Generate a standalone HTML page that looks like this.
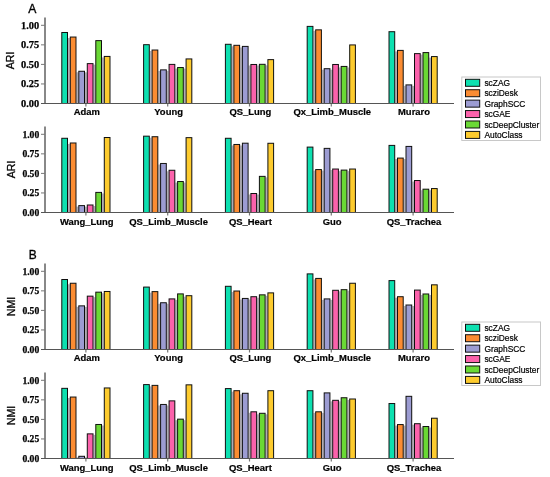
<!DOCTYPE html>
<html><head><meta charset="utf-8"><title>ARI / NMI bar charts</title>
<style>
html,body{margin:0;padding:0;background:#fff;width:550px;height:477px;overflow:hidden}
svg{display:block}
.pl{font-family:"Liberation Sans",Arial,sans-serif;font-size:12.8px;fill:#000;stroke:#000;stroke-width:0.35px}
.cat{font-family:"Liberation Sans",Arial,sans-serif;font-weight:bold;font-size:9.45px;fill:#000;stroke:#000;stroke-width:0.2px;text-anchor:middle}
.tk{font-family:"Liberation Serif","Times New Roman",serif;font-weight:bold;font-size:10px;fill:#000;stroke:#000;stroke-width:0.25px;text-anchor:end}
.at{font-family:"Liberation Sans",Arial,sans-serif;font-size:10.6px;fill:#000;stroke:#000;stroke-width:0.3px;text-anchor:middle}
.lg{font-family:"Liberation Sans",Arial,sans-serif;font-size:8.4px;fill:#000;stroke:#000;stroke-width:0.2px}
</style></head><body>
<svg width="550" height="477" viewBox="0 0 550 477">
<defs><filter id="bl" x="0" y="0" width="1" height="1"><feGaussianBlur stdDeviation="0.35"/></filter></defs>
<rect x="0" y="0" width="550" height="477" fill="#fff"/>
<g filter="url(#bl)">
<text transform="translate(28.3 12.6) scale(0.95 1)" class="pl">A</text>
<text transform="translate(28.7 258.6) scale(0.93 0.95)" class="pl">B</text>
<rect x="68.00" y="38.03" width="1.80" height="65.47" fill="#b0acb4"/>
<rect x="76.50" y="72.28" width="1.80" height="31.22" fill="#b0acb4"/>
<rect x="85.00" y="72.28" width="1.80" height="31.22" fill="#b0acb4"/>
<rect x="93.50" y="64.62" width="1.80" height="38.88" fill="#b0acb4"/>
<rect x="102.00" y="57.42" width="1.80" height="46.08" fill="#b0acb4"/>
<rect x="61.80" y="32.49" width="5.70" height="71.01" fill="#10e0b0" stroke="#111" stroke-width="1"/>
<rect x="70.30" y="37.03" width="5.70" height="66.47" fill="#fb8c30" stroke="#111" stroke-width="1"/>
<rect x="78.80" y="71.28" width="5.70" height="32.22" fill="#9c9cd2" stroke="#111" stroke-width="1"/>
<rect x="87.30" y="63.62" width="5.70" height="39.88" fill="#fb62ab" stroke="#111" stroke-width="1"/>
<rect x="95.80" y="40.63" width="5.70" height="62.87" fill="#6ad834" stroke="#111" stroke-width="1"/>
<rect x="104.30" y="56.42" width="5.70" height="47.08" fill="#fdcb2e" stroke="#111" stroke-width="1"/>
<line x1="85.90" y1="103.5" x2="85.90" y2="106.5" stroke="#777" stroke-width="1.2"/>
<text transform="translate(86.80 115.40) scale(1 1.03)" class="cat">Adam</text>
<rect x="149.80" y="51.01" width="1.80" height="52.49" fill="#b0acb4"/>
<rect x="158.30" y="70.87" width="1.80" height="32.63" fill="#b0acb4"/>
<rect x="166.80" y="70.87" width="1.80" height="32.63" fill="#b0acb4"/>
<rect x="175.30" y="68.53" width="1.80" height="34.97" fill="#b0acb4"/>
<rect x="183.80" y="68.53" width="1.80" height="34.97" fill="#b0acb4"/>
<rect x="143.60" y="44.69" width="5.70" height="58.81" fill="#10e0b0" stroke="#111" stroke-width="1"/>
<rect x="152.10" y="50.01" width="5.70" height="53.49" fill="#fb8c30" stroke="#111" stroke-width="1"/>
<rect x="160.60" y="69.87" width="5.70" height="33.63" fill="#9c9cd2" stroke="#111" stroke-width="1"/>
<rect x="169.10" y="64.40" width="5.70" height="39.10" fill="#fb62ab" stroke="#111" stroke-width="1"/>
<rect x="177.60" y="67.53" width="5.70" height="35.97" fill="#6ad834" stroke="#111" stroke-width="1"/>
<rect x="186.10" y="58.93" width="5.70" height="44.57" fill="#fdcb2e" stroke="#111" stroke-width="1"/>
<line x1="167.70" y1="103.5" x2="167.70" y2="106.5" stroke="#777" stroke-width="1.2"/>
<text transform="translate(168.60 115.40) scale(1 1.03)" class="cat">Young</text>
<rect x="231.60" y="46.32" width="1.80" height="57.18" fill="#b0acb4"/>
<rect x="240.10" y="47.41" width="1.80" height="56.09" fill="#b0acb4"/>
<rect x="248.60" y="65.48" width="1.80" height="38.02" fill="#b0acb4"/>
<rect x="257.10" y="65.48" width="1.80" height="38.02" fill="#b0acb4"/>
<rect x="265.60" y="65.32" width="1.80" height="38.18" fill="#b0acb4"/>
<rect x="225.40" y="44.30" width="5.70" height="59.20" fill="#10e0b0" stroke="#111" stroke-width="1"/>
<rect x="233.90" y="45.32" width="5.70" height="58.18" fill="#fb8c30" stroke="#111" stroke-width="1"/>
<rect x="242.40" y="46.41" width="5.70" height="57.09" fill="#9c9cd2" stroke="#111" stroke-width="1"/>
<rect x="250.90" y="64.48" width="5.70" height="39.02" fill="#fb62ab" stroke="#111" stroke-width="1"/>
<rect x="259.40" y="64.32" width="5.70" height="39.18" fill="#6ad834" stroke="#111" stroke-width="1"/>
<rect x="267.90" y="59.63" width="5.70" height="43.87" fill="#fdcb2e" stroke="#111" stroke-width="1"/>
<line x1="249.50" y1="103.5" x2="249.50" y2="106.5" stroke="#777" stroke-width="1.2"/>
<text transform="translate(250.40 115.40) scale(1 1.03)" class="cat">QS_Lung</text>
<rect x="313.40" y="30.84" width="1.80" height="72.66" fill="#b0acb4"/>
<rect x="321.90" y="69.70" width="1.80" height="33.80" fill="#b0acb4"/>
<rect x="330.40" y="69.70" width="1.80" height="33.80" fill="#b0acb4"/>
<rect x="338.90" y="67.43" width="1.80" height="36.07" fill="#b0acb4"/>
<rect x="347.40" y="67.43" width="1.80" height="36.07" fill="#b0acb4"/>
<rect x="307.20" y="26.39" width="5.70" height="77.11" fill="#10e0b0" stroke="#111" stroke-width="1"/>
<rect x="315.70" y="29.84" width="5.70" height="73.66" fill="#fb8c30" stroke="#111" stroke-width="1"/>
<rect x="324.20" y="68.70" width="5.70" height="34.80" fill="#9c9cd2" stroke="#111" stroke-width="1"/>
<rect x="332.70" y="64.48" width="5.70" height="39.02" fill="#fb62ab" stroke="#111" stroke-width="1"/>
<rect x="341.20" y="66.43" width="5.70" height="37.07" fill="#6ad834" stroke="#111" stroke-width="1"/>
<rect x="349.70" y="44.93" width="5.70" height="58.57" fill="#fdcb2e" stroke="#111" stroke-width="1"/>
<line x1="331.30" y1="103.5" x2="331.30" y2="106.5" stroke="#777" stroke-width="1.2"/>
<text transform="translate(332.20 115.40) scale(1 1.03)" class="cat">Qx_Limb_Muscle</text>
<rect x="395.20" y="51.40" width="1.80" height="52.10" fill="#b0acb4"/>
<rect x="403.70" y="85.89" width="1.80" height="17.61" fill="#b0acb4"/>
<rect x="412.20" y="85.89" width="1.80" height="17.61" fill="#b0acb4"/>
<rect x="420.70" y="54.61" width="1.80" height="48.89" fill="#b0acb4"/>
<rect x="429.20" y="57.58" width="1.80" height="45.92" fill="#b0acb4"/>
<rect x="389.00" y="31.71" width="5.70" height="71.79" fill="#10e0b0" stroke="#111" stroke-width="1"/>
<rect x="397.50" y="50.40" width="5.70" height="53.10" fill="#fb8c30" stroke="#111" stroke-width="1"/>
<rect x="406.00" y="84.89" width="5.70" height="18.61" fill="#9c9cd2" stroke="#111" stroke-width="1"/>
<rect x="414.50" y="53.61" width="5.70" height="49.89" fill="#fb62ab" stroke="#111" stroke-width="1"/>
<rect x="423.00" y="52.59" width="5.70" height="50.91" fill="#6ad834" stroke="#111" stroke-width="1"/>
<rect x="431.50" y="56.58" width="5.70" height="46.92" fill="#fdcb2e" stroke="#111" stroke-width="1"/>
<line x1="413.10" y1="103.5" x2="413.10" y2="106.5" stroke="#777" stroke-width="1.2"/>
<text transform="translate(414.00 115.40) scale(1 1.03)" class="cat">Muraro</text>
<line x1="45.0" y1="17.48" x2="45.0" y2="103.5" stroke="#888" stroke-width="2"/>
<line x1="41" y1="103.50" x2="45.0" y2="103.50" stroke="#777" stroke-width="1"/>
<text x="39.2" y="107.00" class="tk" style="font-size:10.4px">0.00</text>
<line x1="41" y1="83.95" x2="45.0" y2="83.95" stroke="#777" stroke-width="1"/>
<text x="39.2" y="87.45" class="tk" style="font-size:10.4px">0.25</text>
<line x1="41" y1="64.40" x2="45.0" y2="64.40" stroke="#777" stroke-width="1"/>
<text x="39.2" y="67.90" class="tk" style="font-size:10.4px">0.50</text>
<line x1="41" y1="44.85" x2="45.0" y2="44.85" stroke="#777" stroke-width="1"/>
<text x="39.2" y="48.35" class="tk" style="font-size:10.4px">0.75</text>
<line x1="41" y1="25.30" x2="45.0" y2="25.30" stroke="#777" stroke-width="1"/>
<text x="39.2" y="28.80" class="tk" style="font-size:10.4px">1.00</text>
<line x1="41" y1="103.5" x2="454.0" y2="103.5" stroke="#555" stroke-width="1"/>
<text transform="translate(13.5 60.49) rotate(-90)" class="at">ARI</text>
<rect x="68.00" y="143.98" width="1.80" height="68.52" fill="#b0acb4"/>
<rect x="76.50" y="206.62" width="1.80" height="5.88" fill="#b0acb4"/>
<rect x="85.00" y="206.62" width="1.80" height="5.88" fill="#b0acb4"/>
<rect x="93.50" y="205.99" width="1.80" height="6.51" fill="#b0acb4"/>
<rect x="102.00" y="193.40" width="1.80" height="19.10" fill="#b0acb4"/>
<rect x="61.80" y="138.29" width="5.70" height="74.21" fill="#10e0b0" stroke="#111" stroke-width="1"/>
<rect x="70.30" y="142.98" width="5.70" height="69.52" fill="#fb8c30" stroke="#111" stroke-width="1"/>
<rect x="78.80" y="205.62" width="5.70" height="6.88" fill="#9c9cd2" stroke="#111" stroke-width="1"/>
<rect x="87.30" y="204.99" width="5.70" height="7.51" fill="#fb62ab" stroke="#111" stroke-width="1"/>
<rect x="95.80" y="192.40" width="5.70" height="20.10" fill="#6ad834" stroke="#111" stroke-width="1"/>
<rect x="104.30" y="137.51" width="5.70" height="74.99" fill="#fdcb2e" stroke="#111" stroke-width="1"/>
<line x1="85.90" y1="212.5" x2="85.90" y2="215.5" stroke="#777" stroke-width="1.2"/>
<text transform="translate(86.80 224.80) scale(1 1.03)" class="cat">Wang_Lung</text>
<rect x="149.80" y="137.72" width="1.80" height="74.78" fill="#b0acb4"/>
<rect x="158.30" y="164.47" width="1.80" height="48.03" fill="#b0acb4"/>
<rect x="166.80" y="171.27" width="1.80" height="41.23" fill="#b0acb4"/>
<rect x="175.30" y="182.53" width="1.80" height="29.97" fill="#b0acb4"/>
<rect x="183.80" y="182.53" width="1.80" height="29.97" fill="#b0acb4"/>
<rect x="143.60" y="136.18" width="5.70" height="76.32" fill="#10e0b0" stroke="#111" stroke-width="1"/>
<rect x="152.10" y="136.72" width="5.70" height="75.78" fill="#fb8c30" stroke="#111" stroke-width="1"/>
<rect x="160.60" y="163.47" width="5.70" height="49.03" fill="#9c9cd2" stroke="#111" stroke-width="1"/>
<rect x="169.10" y="170.27" width="5.70" height="42.23" fill="#fb62ab" stroke="#111" stroke-width="1"/>
<rect x="177.60" y="181.53" width="5.70" height="30.97" fill="#6ad834" stroke="#111" stroke-width="1"/>
<rect x="186.10" y="137.66" width="5.70" height="74.84" fill="#fdcb2e" stroke="#111" stroke-width="1"/>
<line x1="167.70" y1="212.5" x2="167.70" y2="215.5" stroke="#777" stroke-width="1.2"/>
<text transform="translate(168.60 224.80) scale(1 1.03)" class="cat">QS_Limb_Muscle</text>
<rect x="231.60" y="145.47" width="1.80" height="67.03" fill="#b0acb4"/>
<rect x="240.10" y="145.47" width="1.80" height="67.03" fill="#b0acb4"/>
<rect x="248.60" y="194.50" width="1.80" height="18.00" fill="#b0acb4"/>
<rect x="257.10" y="194.50" width="1.80" height="18.00" fill="#b0acb4"/>
<rect x="265.60" y="177.37" width="1.80" height="35.13" fill="#b0acb4"/>
<rect x="225.40" y="138.29" width="5.70" height="74.21" fill="#10e0b0" stroke="#111" stroke-width="1"/>
<rect x="233.90" y="144.47" width="5.70" height="68.03" fill="#fb8c30" stroke="#111" stroke-width="1"/>
<rect x="242.40" y="143.21" width="5.70" height="69.29" fill="#9c9cd2" stroke="#111" stroke-width="1"/>
<rect x="250.90" y="193.50" width="5.70" height="19.00" fill="#fb62ab" stroke="#111" stroke-width="1"/>
<rect x="259.40" y="176.37" width="5.70" height="36.13" fill="#6ad834" stroke="#111" stroke-width="1"/>
<rect x="267.90" y="143.29" width="5.70" height="69.21" fill="#fdcb2e" stroke="#111" stroke-width="1"/>
<line x1="249.50" y1="212.5" x2="249.50" y2="215.5" stroke="#777" stroke-width="1.2"/>
<text transform="translate(250.40 224.80) scale(1 1.03)" class="cat">QS_Heart</text>
<rect x="313.40" y="170.57" width="1.80" height="41.93" fill="#b0acb4"/>
<rect x="321.90" y="170.57" width="1.80" height="41.93" fill="#b0acb4"/>
<rect x="330.40" y="170.02" width="1.80" height="42.48" fill="#b0acb4"/>
<rect x="338.90" y="171.12" width="1.80" height="41.38" fill="#b0acb4"/>
<rect x="347.40" y="171.12" width="1.80" height="41.38" fill="#b0acb4"/>
<rect x="307.20" y="147.12" width="5.70" height="65.38" fill="#10e0b0" stroke="#111" stroke-width="1"/>
<rect x="315.70" y="169.57" width="5.70" height="42.93" fill="#fb8c30" stroke="#111" stroke-width="1"/>
<rect x="324.20" y="148.38" width="5.70" height="64.12" fill="#9c9cd2" stroke="#111" stroke-width="1"/>
<rect x="332.70" y="169.02" width="5.70" height="43.48" fill="#fb62ab" stroke="#111" stroke-width="1"/>
<rect x="341.20" y="170.12" width="5.70" height="42.38" fill="#6ad834" stroke="#111" stroke-width="1"/>
<rect x="349.70" y="169.02" width="5.70" height="43.48" fill="#fdcb2e" stroke="#111" stroke-width="1"/>
<line x1="331.30" y1="212.5" x2="331.30" y2="215.5" stroke="#777" stroke-width="1.2"/>
<text transform="translate(332.20 224.80) scale(1 1.03)" class="cat">Guo</text>
<rect x="395.20" y="159.07" width="1.80" height="53.43" fill="#b0acb4"/>
<rect x="403.70" y="159.07" width="1.80" height="53.43" fill="#b0acb4"/>
<rect x="412.20" y="181.52" width="1.80" height="30.98" fill="#b0acb4"/>
<rect x="420.70" y="190.20" width="1.80" height="22.30" fill="#b0acb4"/>
<rect x="429.20" y="190.20" width="1.80" height="22.30" fill="#b0acb4"/>
<rect x="389.00" y="145.40" width="5.70" height="67.10" fill="#10e0b0" stroke="#111" stroke-width="1"/>
<rect x="397.50" y="158.07" width="5.70" height="54.43" fill="#fb8c30" stroke="#111" stroke-width="1"/>
<rect x="406.00" y="146.42" width="5.70" height="66.08" fill="#9c9cd2" stroke="#111" stroke-width="1"/>
<rect x="414.50" y="180.52" width="5.70" height="31.98" fill="#fb62ab" stroke="#111" stroke-width="1"/>
<rect x="423.00" y="189.20" width="5.70" height="23.30" fill="#6ad834" stroke="#111" stroke-width="1"/>
<rect x="431.50" y="188.57" width="5.70" height="23.93" fill="#fdcb2e" stroke="#111" stroke-width="1"/>
<line x1="413.10" y1="212.5" x2="413.10" y2="215.5" stroke="#777" stroke-width="1.2"/>
<text transform="translate(414.00 224.80) scale(1 1.03)" class="cat">QS_Trachea</text>
<line x1="45.0" y1="126.48" x2="45.0" y2="212.5" stroke="#888" stroke-width="2"/>
<line x1="41" y1="212.50" x2="45.0" y2="212.50" stroke="#777" stroke-width="1"/>
<text x="39.2" y="216.00" class="tk" style="font-size:9.6px">0.00</text>
<line x1="41" y1="192.95" x2="45.0" y2="192.95" stroke="#777" stroke-width="1"/>
<text x="39.2" y="196.45" class="tk" style="font-size:9.6px">0.25</text>
<line x1="41" y1="173.40" x2="45.0" y2="173.40" stroke="#777" stroke-width="1"/>
<text x="39.2" y="176.90" class="tk" style="font-size:9.6px">0.50</text>
<line x1="41" y1="153.85" x2="45.0" y2="153.85" stroke="#777" stroke-width="1"/>
<text x="39.2" y="157.35" class="tk" style="font-size:9.6px">0.75</text>
<line x1="41" y1="134.30" x2="45.0" y2="134.30" stroke="#777" stroke-width="1"/>
<text x="39.2" y="137.80" class="tk" style="font-size:9.6px">1.00</text>
<line x1="41" y1="212.5" x2="454.0" y2="212.5" stroke="#555" stroke-width="1"/>
<text transform="translate(14.5 169.49) rotate(-90)" class="at">ARI</text>
<rect x="68.00" y="284.26" width="1.80" height="65.24" fill="#b0acb4"/>
<rect x="76.50" y="306.86" width="1.80" height="42.64" fill="#b0acb4"/>
<rect x="85.00" y="306.86" width="1.80" height="42.64" fill="#b0acb4"/>
<rect x="93.50" y="297.17" width="1.80" height="52.33" fill="#b0acb4"/>
<rect x="102.00" y="293.18" width="1.80" height="56.32" fill="#b0acb4"/>
<rect x="61.80" y="279.51" width="5.70" height="69.99" fill="#10e0b0" stroke="#111" stroke-width="1"/>
<rect x="70.30" y="283.26" width="5.70" height="66.24" fill="#fb8c30" stroke="#111" stroke-width="1"/>
<rect x="78.80" y="305.86" width="5.70" height="43.64" fill="#9c9cd2" stroke="#111" stroke-width="1"/>
<rect x="87.30" y="296.17" width="5.70" height="53.33" fill="#fb62ab" stroke="#111" stroke-width="1"/>
<rect x="95.80" y="292.18" width="5.70" height="57.32" fill="#6ad834" stroke="#111" stroke-width="1"/>
<rect x="104.30" y="291.48" width="5.70" height="58.02" fill="#fdcb2e" stroke="#111" stroke-width="1"/>
<line x1="85.90" y1="349.5" x2="85.90" y2="352.5" stroke="#777" stroke-width="1.2"/>
<text transform="translate(86.80 361.40) scale(1 1.03)" class="cat">Adam</text>
<rect x="149.80" y="292.63" width="1.80" height="56.87" fill="#b0acb4"/>
<rect x="158.30" y="303.74" width="1.80" height="45.76" fill="#b0acb4"/>
<rect x="166.80" y="303.74" width="1.80" height="45.76" fill="#b0acb4"/>
<rect x="175.30" y="299.90" width="1.80" height="49.60" fill="#b0acb4"/>
<rect x="183.80" y="296.70" width="1.80" height="52.80" fill="#b0acb4"/>
<rect x="143.60" y="287.10" width="5.70" height="62.40" fill="#10e0b0" stroke="#111" stroke-width="1"/>
<rect x="152.10" y="291.63" width="5.70" height="57.87" fill="#fb8c30" stroke="#111" stroke-width="1"/>
<rect x="160.60" y="302.74" width="5.70" height="46.76" fill="#9c9cd2" stroke="#111" stroke-width="1"/>
<rect x="169.10" y="298.90" width="5.70" height="50.60" fill="#fb62ab" stroke="#111" stroke-width="1"/>
<rect x="177.60" y="293.90" width="5.70" height="55.60" fill="#6ad834" stroke="#111" stroke-width="1"/>
<rect x="186.10" y="295.70" width="5.70" height="53.80" fill="#fdcb2e" stroke="#111" stroke-width="1"/>
<line x1="167.70" y1="349.5" x2="167.70" y2="352.5" stroke="#777" stroke-width="1.2"/>
<text transform="translate(168.60 361.40) scale(1 1.03)" class="cat">Young</text>
<rect x="231.60" y="292.01" width="1.80" height="57.49" fill="#b0acb4"/>
<rect x="240.10" y="299.44" width="1.80" height="50.06" fill="#b0acb4"/>
<rect x="248.60" y="299.44" width="1.80" height="50.06" fill="#b0acb4"/>
<rect x="257.10" y="297.71" width="1.80" height="51.79" fill="#b0acb4"/>
<rect x="265.60" y="295.84" width="1.80" height="53.66" fill="#b0acb4"/>
<rect x="225.40" y="286.31" width="5.70" height="63.19" fill="#10e0b0" stroke="#111" stroke-width="1"/>
<rect x="233.90" y="291.01" width="5.70" height="58.49" fill="#fb8c30" stroke="#111" stroke-width="1"/>
<rect x="242.40" y="298.44" width="5.70" height="51.06" fill="#9c9cd2" stroke="#111" stroke-width="1"/>
<rect x="250.90" y="296.71" width="5.70" height="52.79" fill="#fb62ab" stroke="#111" stroke-width="1"/>
<rect x="259.40" y="294.84" width="5.70" height="54.66" fill="#6ad834" stroke="#111" stroke-width="1"/>
<rect x="267.90" y="292.88" width="5.70" height="56.62" fill="#fdcb2e" stroke="#111" stroke-width="1"/>
<line x1="249.50" y1="349.5" x2="249.50" y2="352.5" stroke="#777" stroke-width="1.2"/>
<text transform="translate(250.40 361.40) scale(1 1.03)" class="cat">QS_Lung</text>
<rect x="313.40" y="279.42" width="1.80" height="70.08" fill="#b0acb4"/>
<rect x="321.90" y="299.90" width="1.80" height="49.60" fill="#b0acb4"/>
<rect x="330.40" y="299.90" width="1.80" height="49.60" fill="#b0acb4"/>
<rect x="338.90" y="291.30" width="1.80" height="58.20" fill="#b0acb4"/>
<rect x="347.40" y="290.68" width="1.80" height="58.82" fill="#b0acb4"/>
<rect x="307.20" y="273.88" width="5.70" height="75.62" fill="#10e0b0" stroke="#111" stroke-width="1"/>
<rect x="315.70" y="278.42" width="5.70" height="71.08" fill="#fb8c30" stroke="#111" stroke-width="1"/>
<rect x="324.20" y="298.90" width="5.70" height="50.60" fill="#9c9cd2" stroke="#111" stroke-width="1"/>
<rect x="332.70" y="290.30" width="5.70" height="59.20" fill="#fb62ab" stroke="#111" stroke-width="1"/>
<rect x="341.20" y="289.68" width="5.70" height="59.82" fill="#6ad834" stroke="#111" stroke-width="1"/>
<rect x="349.70" y="283.26" width="5.70" height="66.24" fill="#fdcb2e" stroke="#111" stroke-width="1"/>
<line x1="331.30" y1="349.5" x2="331.30" y2="352.5" stroke="#777" stroke-width="1.2"/>
<text transform="translate(332.20 361.40) scale(1 1.03)" class="cat">Qx_Limb_Muscle</text>
<rect x="395.20" y="297.71" width="1.80" height="51.79" fill="#b0acb4"/>
<rect x="403.70" y="306.00" width="1.80" height="43.50" fill="#b0acb4"/>
<rect x="412.20" y="306.00" width="1.80" height="43.50" fill="#b0acb4"/>
<rect x="420.70" y="294.98" width="1.80" height="54.52" fill="#b0acb4"/>
<rect x="429.20" y="294.98" width="1.80" height="54.52" fill="#b0acb4"/>
<rect x="389.00" y="280.61" width="5.70" height="68.89" fill="#10e0b0" stroke="#111" stroke-width="1"/>
<rect x="397.50" y="296.71" width="5.70" height="52.79" fill="#fb8c30" stroke="#111" stroke-width="1"/>
<rect x="406.00" y="305.00" width="5.70" height="44.50" fill="#9c9cd2" stroke="#111" stroke-width="1"/>
<rect x="414.50" y="290.07" width="5.70" height="59.43" fill="#fb62ab" stroke="#111" stroke-width="1"/>
<rect x="423.00" y="293.98" width="5.70" height="55.52" fill="#6ad834" stroke="#111" stroke-width="1"/>
<rect x="431.50" y="284.83" width="5.70" height="64.67" fill="#fdcb2e" stroke="#111" stroke-width="1"/>
<line x1="413.10" y1="349.5" x2="413.10" y2="352.5" stroke="#777" stroke-width="1.2"/>
<text transform="translate(414.00 361.40) scale(1 1.03)" class="cat">Muraro</text>
<line x1="45.0" y1="263.48" x2="45.0" y2="349.5" stroke="#888" stroke-width="2"/>
<line x1="41" y1="349.50" x2="45.0" y2="349.50" stroke="#777" stroke-width="1"/>
<text x="39.2" y="353.00" class="tk" style="font-size:9.6px">0.00</text>
<line x1="41" y1="329.95" x2="45.0" y2="329.95" stroke="#777" stroke-width="1"/>
<text x="39.2" y="333.45" class="tk" style="font-size:9.6px">0.25</text>
<line x1="41" y1="310.40" x2="45.0" y2="310.40" stroke="#777" stroke-width="1"/>
<text x="39.2" y="313.90" class="tk" style="font-size:9.6px">0.50</text>
<line x1="41" y1="290.85" x2="45.0" y2="290.85" stroke="#777" stroke-width="1"/>
<text x="39.2" y="294.35" class="tk" style="font-size:9.6px">0.75</text>
<line x1="41" y1="271.30" x2="45.0" y2="271.30" stroke="#777" stroke-width="1"/>
<text x="39.2" y="274.80" class="tk" style="font-size:9.6px">1.00</text>
<line x1="41" y1="349.5" x2="454.0" y2="349.5" stroke="#555" stroke-width="1"/>
<text transform="translate(14.5 306.49) rotate(-90)" class="at">NMI</text>
<rect x="68.00" y="398.03" width="1.80" height="60.47" fill="#b0acb4"/>
<rect x="76.50" y="457.31" width="1.80" height="1.19" fill="#b0acb4"/>
<rect x="85.00" y="457.31" width="1.80" height="1.19" fill="#b0acb4"/>
<rect x="93.50" y="434.87" width="1.80" height="23.63" fill="#b0acb4"/>
<rect x="102.00" y="425.48" width="1.80" height="33.02" fill="#b0acb4"/>
<rect x="61.80" y="388.35" width="5.70" height="70.15" fill="#10e0b0" stroke="#111" stroke-width="1"/>
<rect x="70.30" y="397.03" width="5.70" height="61.47" fill="#fb8c30" stroke="#111" stroke-width="1"/>
<rect x="78.80" y="456.31" width="5.70" height="2.19" fill="#9c9cd2" stroke="#111" stroke-width="1"/>
<rect x="87.30" y="433.87" width="5.70" height="24.63" fill="#fb62ab" stroke="#111" stroke-width="1"/>
<rect x="95.80" y="424.48" width="5.70" height="34.02" fill="#6ad834" stroke="#111" stroke-width="1"/>
<rect x="104.30" y="387.96" width="5.70" height="70.54" fill="#fdcb2e" stroke="#111" stroke-width="1"/>
<line x1="85.90" y1="458.5" x2="85.90" y2="461.5" stroke="#777" stroke-width="1.2"/>
<text transform="translate(86.80 470.80) scale(1 1.03)" class="cat">Wang_Lung</text>
<rect x="149.80" y="386.38" width="1.80" height="72.12" fill="#b0acb4"/>
<rect x="158.30" y="405.46" width="1.80" height="53.04" fill="#b0acb4"/>
<rect x="166.80" y="405.46" width="1.80" height="53.04" fill="#b0acb4"/>
<rect x="175.30" y="420.17" width="1.80" height="38.33" fill="#b0acb4"/>
<rect x="183.80" y="420.17" width="1.80" height="38.33" fill="#b0acb4"/>
<rect x="143.60" y="384.60" width="5.70" height="73.90" fill="#10e0b0" stroke="#111" stroke-width="1"/>
<rect x="152.10" y="385.38" width="5.70" height="73.12" fill="#fb8c30" stroke="#111" stroke-width="1"/>
<rect x="160.60" y="404.46" width="5.70" height="54.04" fill="#9c9cd2" stroke="#111" stroke-width="1"/>
<rect x="169.10" y="400.87" width="5.70" height="57.63" fill="#fb62ab" stroke="#111" stroke-width="1"/>
<rect x="177.60" y="419.17" width="5.70" height="39.33" fill="#6ad834" stroke="#111" stroke-width="1"/>
<rect x="186.10" y="384.84" width="5.70" height="73.66" fill="#fdcb2e" stroke="#111" stroke-width="1"/>
<line x1="167.70" y1="458.5" x2="167.70" y2="461.5" stroke="#777" stroke-width="1.2"/>
<text transform="translate(168.60 470.80) scale(1 1.03)" class="cat">QS_Limb_Muscle</text>
<rect x="231.60" y="391.70" width="1.80" height="66.80" fill="#b0acb4"/>
<rect x="240.10" y="394.28" width="1.80" height="64.22" fill="#b0acb4"/>
<rect x="248.60" y="412.81" width="1.80" height="45.69" fill="#b0acb4"/>
<rect x="257.10" y="414.30" width="1.80" height="44.20" fill="#b0acb4"/>
<rect x="265.60" y="414.30" width="1.80" height="44.20" fill="#b0acb4"/>
<rect x="225.40" y="388.59" width="5.70" height="69.91" fill="#10e0b0" stroke="#111" stroke-width="1"/>
<rect x="233.90" y="390.70" width="5.70" height="67.80" fill="#fb8c30" stroke="#111" stroke-width="1"/>
<rect x="242.40" y="393.28" width="5.70" height="65.22" fill="#9c9cd2" stroke="#111" stroke-width="1"/>
<rect x="250.90" y="411.81" width="5.70" height="46.69" fill="#fb62ab" stroke="#111" stroke-width="1"/>
<rect x="259.40" y="413.30" width="5.70" height="45.20" fill="#6ad834" stroke="#111" stroke-width="1"/>
<rect x="267.90" y="390.70" width="5.70" height="67.80" fill="#fdcb2e" stroke="#111" stroke-width="1"/>
<line x1="249.50" y1="458.5" x2="249.50" y2="461.5" stroke="#777" stroke-width="1.2"/>
<text transform="translate(250.40 470.80) scale(1 1.03)" class="cat">QS_Heart</text>
<rect x="313.40" y="412.81" width="1.80" height="45.69" fill="#b0acb4"/>
<rect x="321.90" y="412.81" width="1.80" height="45.69" fill="#b0acb4"/>
<rect x="330.40" y="401.32" width="1.80" height="57.18" fill="#b0acb4"/>
<rect x="338.90" y="401.32" width="1.80" height="57.18" fill="#b0acb4"/>
<rect x="347.40" y="399.99" width="1.80" height="58.51" fill="#b0acb4"/>
<rect x="307.20" y="390.70" width="5.70" height="67.80" fill="#10e0b0" stroke="#111" stroke-width="1"/>
<rect x="315.70" y="411.81" width="5.70" height="46.69" fill="#fb8c30" stroke="#111" stroke-width="1"/>
<rect x="324.20" y="392.89" width="5.70" height="65.61" fill="#9c9cd2" stroke="#111" stroke-width="1"/>
<rect x="332.70" y="400.32" width="5.70" height="58.18" fill="#fb62ab" stroke="#111" stroke-width="1"/>
<rect x="341.20" y="397.74" width="5.70" height="60.76" fill="#6ad834" stroke="#111" stroke-width="1"/>
<rect x="349.70" y="398.99" width="5.70" height="59.51" fill="#fdcb2e" stroke="#111" stroke-width="1"/>
<line x1="331.30" y1="458.5" x2="331.30" y2="461.5" stroke="#777" stroke-width="1.2"/>
<text transform="translate(332.20 470.80) scale(1 1.03)" class="cat">Guo</text>
<rect x="395.20" y="425.56" width="1.80" height="32.94" fill="#b0acb4"/>
<rect x="403.70" y="425.56" width="1.80" height="32.94" fill="#b0acb4"/>
<rect x="412.20" y="424.70" width="1.80" height="33.80" fill="#b0acb4"/>
<rect x="420.70" y="427.52" width="1.80" height="30.98" fill="#b0acb4"/>
<rect x="429.20" y="427.52" width="1.80" height="30.98" fill="#b0acb4"/>
<rect x="389.00" y="403.53" width="5.70" height="54.97" fill="#10e0b0" stroke="#111" stroke-width="1"/>
<rect x="397.50" y="424.56" width="5.70" height="33.94" fill="#fb8c30" stroke="#111" stroke-width="1"/>
<rect x="406.00" y="396.33" width="5.70" height="62.17" fill="#9c9cd2" stroke="#111" stroke-width="1"/>
<rect x="414.50" y="423.70" width="5.70" height="34.80" fill="#fb62ab" stroke="#111" stroke-width="1"/>
<rect x="423.00" y="426.52" width="5.70" height="31.98" fill="#6ad834" stroke="#111" stroke-width="1"/>
<rect x="431.50" y="418.23" width="5.70" height="40.27" fill="#fdcb2e" stroke="#111" stroke-width="1"/>
<line x1="413.10" y1="458.5" x2="413.10" y2="461.5" stroke="#777" stroke-width="1.2"/>
<text transform="translate(414.00 470.80) scale(1 1.03)" class="cat">QS_Trachea</text>
<line x1="45.0" y1="372.48" x2="45.0" y2="458.5" stroke="#888" stroke-width="2"/>
<line x1="41" y1="458.50" x2="45.0" y2="458.50" stroke="#777" stroke-width="1"/>
<text x="39.2" y="462.00" class="tk" style="font-size:9.6px">0.00</text>
<line x1="41" y1="438.95" x2="45.0" y2="438.95" stroke="#777" stroke-width="1"/>
<text x="39.2" y="442.45" class="tk" style="font-size:9.6px">0.25</text>
<line x1="41" y1="419.40" x2="45.0" y2="419.40" stroke="#777" stroke-width="1"/>
<text x="39.2" y="422.90" class="tk" style="font-size:9.6px">0.50</text>
<line x1="41" y1="399.85" x2="45.0" y2="399.85" stroke="#777" stroke-width="1"/>
<text x="39.2" y="403.35" class="tk" style="font-size:9.6px">0.75</text>
<line x1="41" y1="380.30" x2="45.0" y2="380.30" stroke="#777" stroke-width="1"/>
<text x="39.2" y="383.80" class="tk" style="font-size:9.6px">1.00</text>
<line x1="41" y1="458.5" x2="454.0" y2="458.5" stroke="#555" stroke-width="1"/>
<text transform="translate(14.5 415.49) rotate(-90)" class="at">NMI</text>
<rect x="461.8" y="77.0" width="78.7" height="63.5" fill="#fff" stroke="#c8c8c8" stroke-width="1"/>
<rect x="465.5" y="79.30" width="14.2" height="7.0" fill="#10e0b0" stroke="#111" stroke-width="1"/>
<text x="484.4" y="86.00" class="lg">scZAG</text>
<rect x="465.5" y="89.72" width="14.2" height="7.0" fill="#fb8c30" stroke="#111" stroke-width="1"/>
<text x="484.4" y="96.42" class="lg">scziDesk</text>
<rect x="465.5" y="100.14" width="14.2" height="7.0" fill="#9c9cd2" stroke="#111" stroke-width="1"/>
<text x="484.4" y="106.84" class="lg">GraphSCC</text>
<rect x="465.5" y="110.56" width="14.2" height="7.0" fill="#fb62ab" stroke="#111" stroke-width="1"/>
<text x="484.4" y="117.26" class="lg">scGAE</text>
<rect x="465.5" y="120.98" width="14.2" height="7.0" fill="#6ad834" stroke="#111" stroke-width="1"/>
<text x="484.4" y="127.68" class="lg">scDeepCluster</text>
<rect x="465.5" y="131.40" width="14.2" height="7.0" fill="#fdcb2e" stroke="#111" stroke-width="1"/>
<text x="484.4" y="138.10" class="lg">AutoClass</text>
<rect x="461.8" y="322.0" width="78.7" height="63.5" fill="#fff" stroke="#c8c8c8" stroke-width="1"/>
<rect x="465.5" y="324.30" width="14.2" height="7.0" fill="#10e0b0" stroke="#111" stroke-width="1"/>
<text x="484.4" y="331.00" class="lg">scZAG</text>
<rect x="465.5" y="334.72" width="14.2" height="7.0" fill="#fb8c30" stroke="#111" stroke-width="1"/>
<text x="484.4" y="341.42" class="lg">scziDesk</text>
<rect x="465.5" y="345.14" width="14.2" height="7.0" fill="#9c9cd2" stroke="#111" stroke-width="1"/>
<text x="484.4" y="351.84" class="lg">GraphSCC</text>
<rect x="465.5" y="355.56" width="14.2" height="7.0" fill="#fb62ab" stroke="#111" stroke-width="1"/>
<text x="484.4" y="362.26" class="lg">scGAE</text>
<rect x="465.5" y="365.98" width="14.2" height="7.0" fill="#6ad834" stroke="#111" stroke-width="1"/>
<text x="484.4" y="372.68" class="lg">scDeepCluster</text>
<rect x="465.5" y="376.40" width="14.2" height="7.0" fill="#fdcb2e" stroke="#111" stroke-width="1"/>
<text x="484.4" y="383.10" class="lg">AutoClass</text>
</g>
</svg>
</body></html>
